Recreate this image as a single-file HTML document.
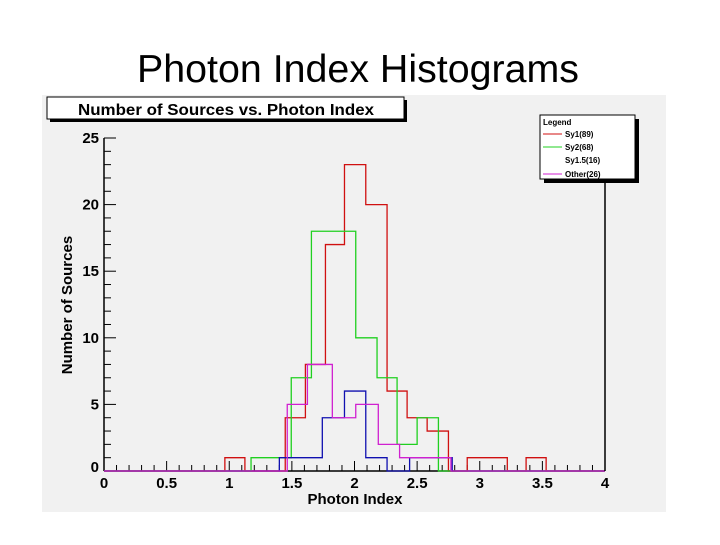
<!DOCTYPE html>
<html><head><meta charset="utf-8"><style>
body{margin:0;background:#fff;width:720px;height:540px;overflow:hidden;font-family:"Liberation Sans",sans-serif}
</style></head><body>
<svg width="720" height="540" xmlns="http://www.w3.org/2000/svg">
<text x="358" y="82" text-anchor="middle" font-size="39" font-family="Liberation Sans, sans-serif" textLength="442" lengthAdjust="spacingAndGlyphs">Photon Index Histograms</text>
<rect x="42" y="95" width="624" height="417" fill="#f1f1f1"/>
<rect x="50" y="100" width="357" height="22" fill="#000"/>
<rect x="47" y="97" width="357" height="22" fill="#fff" stroke="#000"/>
<text x="226" y="115" text-anchor="middle" font-size="16" font-weight="bold" textLength="296" lengthAdjust="spacingAndGlyphs">Number of Sources vs. Photon Index</text>
<g id="axes"></g>
<g id="series"></g>
<line x1="605" y1="180" x2="605" y2="471" stroke="#000" stroke-width="1.5"/>
<rect x="544" y="119" width="95" height="64" fill="#000"/>
<rect x="540" y="115" width="95" height="64" fill="#fff" stroke="#000"/>
<text x="543" y="125" font-size="8" font-weight="bold">Legend</text>
<g font-size="8" font-weight="bold">
<line x1="543" y1="134" x2="562" y2="134" stroke="#d01010"/>
<text x="565" y="137">Sy1(89)</text>
<line x1="543" y1="147" x2="562" y2="147" stroke="#20d020"/>
<text x="565" y="150">Sy2(68)</text>
<text x="565" y="163">Sy1.5(16)</text>
<line x1="543" y1="174" x2="562" y2="174" stroke="#d020d0"/>
<text x="565" y="177">Other(26)</text>
</g>
<text x="355" y="504" text-anchor="middle" font-size="15" font-weight="bold">Photon Index</text>
<text transform="translate(72,305) rotate(-90)" text-anchor="middle" font-size="15" font-weight="bold">Number of Sources</text>
</svg>
<script>
const xTicks=[0,0.5,1,1.5,2,2.5,3,3.5,4];
const xTickLabels=["0","0.5","1","1.5","2","2.5","3","3.5","4"];
const yTicks=[0,5,10,15,20,25];
const yTickLabels=["0","5","10","15","20","25"];
const redEdges=[0,0.965,1.125,1.447,1.608,1.768,1.92,2.09,2.26,2.42,2.58,2.75,2.9,3.06,3.22,3.37,3.53,4];
const redCounts=[0,1,0,4,8,17,23,20,6,4,3,0,1,1,0,1,0];
const greenEdges=[0,1.174,1.495,1.656,2.01,2.18,2.34,2.5,2.67,4];
const greenCounts=[0,1,7,18,10,7,2,4,0];
const blueEdges=[0,1.4,1.743,1.92,2.09,2.26,2.44,2.78,4];
const blueCounts=[0,1,4,6,1,0,1,0];
const magentaEdges=[0,1.463,1.624,1.823,2.01,2.19,2.36,2.77,4];
const magentaCounts=[0,5,8,4,5,2,1,0];
const X=v=>104+v*125.25, Y=v=>471-v*13.32;
const NS="http://www.w3.org/2000/svg";
const ax=document.getElementById('axes'), se=document.getElementById('series');
function mk(tag,attrs,parent){const e=document.createElementNS(NS,tag);for(const k in attrs)e.setAttribute(k,attrs[k]);parent.appendChild(e);return e;}
let l=mk('line',{x1:X(0),y1:Y(0),x2:X(4),y2:Y(0),stroke:'#000','stroke-width':1.5},ax);


l=mk('line',{x1:X(0),y1:Y(25),x2:X(0),y2:Y(0),stroke:'#000','stroke-width':1.5},ax);


for(let i=0;i<=40;i++){const v=i*0.1;const big=i%5===0;
 const t=mk('line',{x1:X(v),y1:Y(0),x2:X(v),y2:Y(0)-(big?10:6),stroke:'#000'},ax);
 
 }
for(let i=0;i<=25;i++){const big=i%5===0;
 const t=mk('line',{x1:X(0),y1:Y(i),x2:X(0)+(big?12:7),y2:Y(i),stroke:'#000'},ax);
 
 }
xTicks.forEach((v,i)=>{const t=mk('text',{x:X(v),y:488,'text-anchor':'middle','font-size':15,'font-weight':'bold'},ax);t.textContent=xTickLabels[i];
 
 });
yTicks.forEach((v,i)=>{const t=mk('text',{x:99,y:Y(v)+5-(v===0?4:0),'text-anchor':'end','font-size':15,'font-weight':'bold'},ax);t.textContent=yTickLabels[i];
 
 });
function hist(edges,counts,color,name){let d='M'+X(edges[0])+','+Y(0);
 for(let i=0;i<counts.length;i++){d+=' L'+X(edges[i])+','+Y(counts[i])+' L'+X(edges[i+1])+','+Y(counts[i]);}
 d+=' L'+X(edges[edges.length-1])+','+Y(0);
 const p=mk('path',{d:d,fill:'none',stroke:color,'stroke-width':1.3},se);
 
 }
hist(redEdges,redCounts,'#d01010','series-sy1');
hist(greenEdges,greenCounts,'#20d020','series-sy2');
hist(blueEdges,blueCounts,'#1010b0','series-sy15');
hist(magentaEdges,magentaCounts,'#d020d0','series-other');
</script>
</body></html>
